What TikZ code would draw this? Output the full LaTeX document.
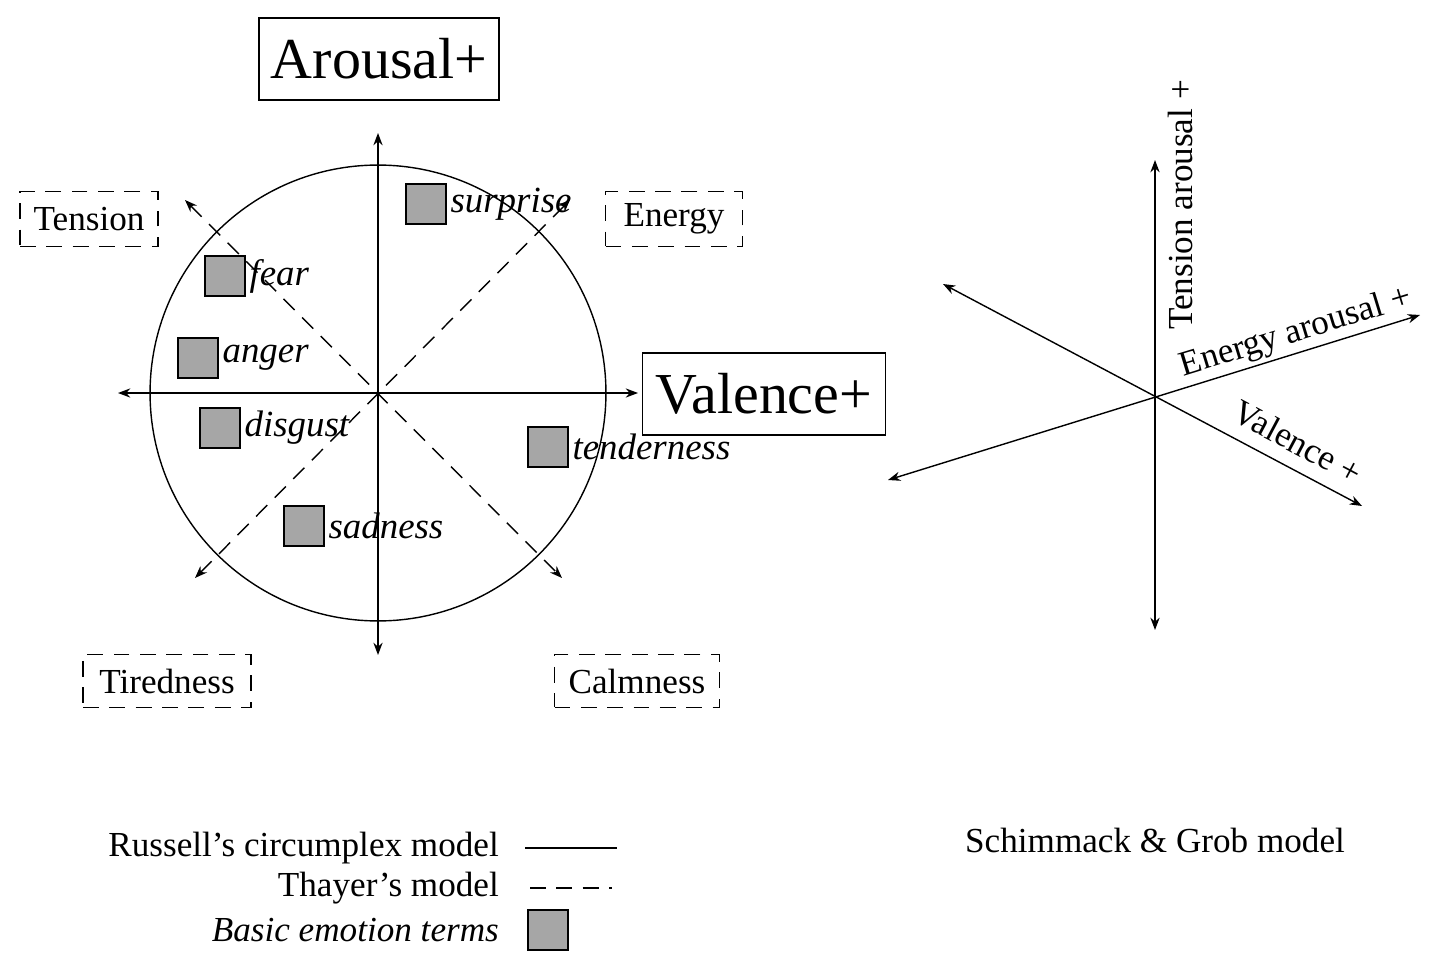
\documentclass[tikz,border=0pt]{standalone}
\usepackage{fontspec}
\setmainfont{Liberation Serif}
\usetikzlibrary{arrows.meta}
\begin{document}
\begin{tikzpicture}[x=0.02cm, y=-0.02cm,
    bigbox/.style={rectangle, draw, thick, minimum width=4.8cm, minimum height=1.64cm, font=\fontsize{33}{38}\selectfont},
    dashbox/.style={rectangle, draw, thick, dash pattern=on 9pt off 6pt, minimum height=1.1cm, font=\fontsize{20}{24}\selectfont},
    term/.style={rectangle, draw, thick, fill=gray!70, minimum size=0.8cm, inner sep=0pt},
    termlabel/.style={right, font=\fontsize{21}{25}\selectfont\itshape, inner sep=2pt},
    axis/.style={{Stealth[length=7pt]}-{Stealth[length=7pt]}, thick},
    thayer/.style={{Stealth[length=7pt]}-{Stealth[length=7pt]}, thick, dash pattern=on 9pt off 6pt},
    legend/.style={font=\fontsize{20}{24}\selectfont},
    axislabel/.style={font=\fontsize{20}{24}\selectfont}
]
\useasboundingbox (0,0) rectangle (1443,969);

% Russell's circumplex
\node[circle, draw, thick, minimum size=9.12cm] (circ) at (378,393) {};
\coordinate (up) at (378,133);
\coordinate (down) at (378,655);
\coordinate (left) at (118,393);
\coordinate (right) at (638,393);
\draw[axis] (down) -- (up);
\draw[axis] (left) -- (right);

% Thayer's model
\coordinate (tl) at (185,200);
\coordinate (br) at (562,578);
\coordinate (tr) at (570,200);
\coordinate (bl) at (195,578);
\draw[thayer] (tl) -- (br);
\draw[thayer] (bl) -- (tr);

\node[bigbox] (arousal) at (379,59) {Arousal+};
\node[bigbox, minimum width=4.86cm] (valence) at (764,394) {Valence+};
\node[dashbox, minimum width=2.76cm] (tension) at (89,219) {Tension};
\node[dashbox, minimum width=2.74cm] (energy) at (674,219) {Energy};
\node[dashbox, minimum width=3.36cm, minimum height=1.06cm] (tiredness) at (167,681) {Tiredness};
\node[dashbox, minimum width=3.3cm, minimum height=1.06cm] (calmness) at (637,681) {Calmness};

% Basic emotion terms
\node[term] (surprise) at (426,204) {};
\node[termlabel] at (surprise.east) {surprise};
\node[term] (fear) at (225,276) {};
\node[termlabel] at (fear.east) {fear};
\node[term] (anger) at (198,358) {};
\node[termlabel] at (anger.east) {anger};
\node[term] (disgust) at (220,428) {};
\node[termlabel] at (disgust.east) {disgust};
\node[term] (tenderness) at (548,447) {};
\node[termlabel] at (tenderness.east) {tenderness};
\node[term] (sadness) at (304,526) {};
\node[termlabel] at (sadness.east) {sadness};

% Schimmack & Grob
\coordinate (sgtop) at (1155,160);
\coordinate (sgbot) at (1155,630);
\coordinate (enA) at (888,480);
\coordinate (enB) at (1420,315);
\coordinate (vaA) at (943,284);
\coordinate (vaB) at (1362,506);
\draw[axis] (sgbot) -- (sgtop);
\draw[axis] (enA) -- (enB);
\draw[axis] (vaA) -- (vaB);
\node[axislabel, rotate=90] (tenlab) at (1180,205) {Tension arousal +};
\node[axislabel, rotate=17] (enlab) at (1296,333) {Energy arousal +};
\node[axislabel, rotate=-28] (valab) at (1298,442) {Valence +};

% Legend
\node[legend, anchor=east] (russell) at (505,848) {Russell’s circumplex model};
\node[legend, anchor=east] (thayerlab) at (505,888) {Thayer’s model};
\node[legend, anchor=east, font=\fontsize{20}{24}\selectfont\itshape] (basic) at (505,930) {Basic emotion terms};
\coordinate (l1a) at (525,848);
\coordinate (l1b) at (617,848);
\coordinate (l2a) at (530,888);
\coordinate (l2b) at (612,888);
\draw[thick] (l1a) -- (l1b);
\draw[thick, dash pattern=on 9pt off 6pt] (l2a) -- (l2b);
\node[term] (legsq) at (548,930) {};
\node[legend] (sglab) at (1155,840) {Schimmack \& Grob model};
\end{tikzpicture}
\end{document}
